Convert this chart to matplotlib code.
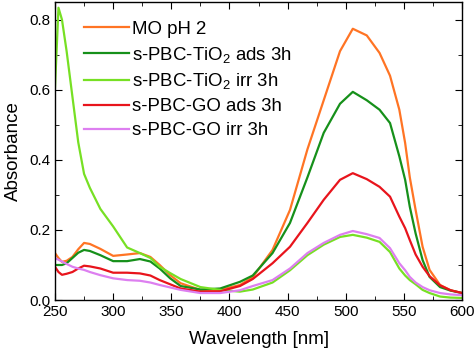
import numpy as np
import matplotlib
matplotlib.use("Agg")
import matplotlib.pyplot as plt
from matplotlib.ticker import MultipleLocator

plt.rcParams['font.family'] = ['Liberation Sans', 'DejaVu Sans']
plt.rcParams['mathtext.default'] = 'regular'

# wavelength grid [nm]
wl = [250, 253, 256, 260, 265, 270, 275, 280, 289, 300, 312, 323, 332, 340, 349,
      358, 375, 392, 409, 420, 437, 452, 467, 481, 495, 506, 518, 529, 538, 546,
      551, 555, 560, 566, 572, 581, 590, 600]

mo_ph2 = [0.134, 0.12, 0.109, 0.112, 0.123, 0.145, 0.163, 0.16, 0.146, 0.126, 0.13,
          0.134, 0.123, 0.10, 0.071, 0.048, 0.029, 0.029, 0.043, 0.065, 0.143, 0.257,
          0.43, 0.57, 0.71, 0.774, 0.755, 0.705, 0.64, 0.543, 0.448, 0.35, 0.257,
          0.152, 0.086, 0.043, 0.028, 0.02]
tio2_ads = [0.10, 0.10, 0.10, 0.105, 0.12, 0.135, 0.143, 0.14, 0.128, 0.111, 0.111,
            0.117, 0.11, 0.09, 0.062, 0.04, 0.03, 0.033, 0.052, 0.07, 0.134, 0.22,
            0.35, 0.477, 0.56, 0.594, 0.57, 0.543, 0.505, 0.41, 0.343, 0.266, 0.19,
            0.114, 0.066, 0.037, 0.027, 0.02]
tio2_irr = [0.606, 0.834, 0.80, 0.71, 0.58, 0.45, 0.36, 0.32, 0.26, 0.21, 0.15,
            0.134, 0.12, 0.095, 0.077, 0.06, 0.037, 0.029, 0.024, 0.03, 0.05, 0.085,
            0.128, 0.158, 0.18, 0.186, 0.178, 0.166, 0.137, 0.09, 0.07, 0.057, 0.045,
            0.029, 0.02, 0.01, 0.007, 0.006]
go_ads = [0.095, 0.08, 0.072, 0.075, 0.08, 0.09, 0.098, 0.096, 0.09, 0.078, 0.078,
          0.076, 0.07, 0.057, 0.045, 0.033, 0.024, 0.025, 0.04, 0.06, 0.105, 0.152,
          0.22, 0.286, 0.343, 0.362, 0.345, 0.323, 0.295, 0.238, 0.205, 0.171, 0.13,
          0.095, 0.068, 0.042, 0.028, 0.02]
go_irr = [0.12, 0.115, 0.11, 0.103, 0.095, 0.09, 0.086, 0.08, 0.071, 0.062, 0.057,
          0.055, 0.05, 0.043, 0.036, 0.029, 0.02, 0.02, 0.028, 0.04, 0.057, 0.09,
          0.134, 0.163, 0.186, 0.197, 0.188, 0.177, 0.148, 0.105, 0.085, 0.066, 0.05,
          0.037, 0.028, 0.02, 0.016, 0.014]

series = [
    (mo_ph2, 'MO pH 2', '#ff7424'),
    (tio2_ads, 's-PBC-TiO$_2$ ads 3h', '#16901a'),
    (tio2_irr, 's-PBC-TiO$_2$ irr 3h', '#77e024'),
    (go_ads, 's-PBC-GO ads 3h', '#e8141c'),
    (go_irr, 's-PBC-GO irr 3h', '#dd7ff0'),
]

fig = plt.figure(figsize=(4.74, 3.53), dpi=100)
ax = fig.add_axes([0.116, 0.150, 0.859, 0.844])

for y, lab, c in series:
    ax.plot(wl, y, color=c, lw=1.6, label=lab)

ax.set_xlim(250, 600)
ax.set_ylim(0, 0.85)
ax.xaxis.set_major_locator(MultipleLocator(50))
ax.xaxis.set_minor_locator(MultipleLocator(25))
ax.yaxis.set_major_locator(MultipleLocator(0.2))
ax.yaxis.set_minor_locator(MultipleLocator(0.1))
ax.yaxis.set_major_formatter(plt.FormatStrFormatter('%.1f'))
ax.tick_params(which='both', direction='in', top=True, right=True, labelsize=11)
ax.tick_params(which='major', length=5)
ax.tick_params(which='minor', length=3)
for s in ax.spines.values():
    s.set_linewidth(1.0)

ax.set_xlabel('Wavelength [nm]', fontsize=13.5, labelpad=9)
ax.set_ylabel('Absorbance', fontsize=13.5, labelpad=5)

ax.legend(loc='upper left', bbox_to_anchor=(0.072, 0.938), frameon=False,
          fontsize=13.4, handlelength=2.4, handletextpad=0.15, borderpad=0,
          borderaxespad=0, labelspacing=0.37)

fig.savefig('out.png', dpi=100)
